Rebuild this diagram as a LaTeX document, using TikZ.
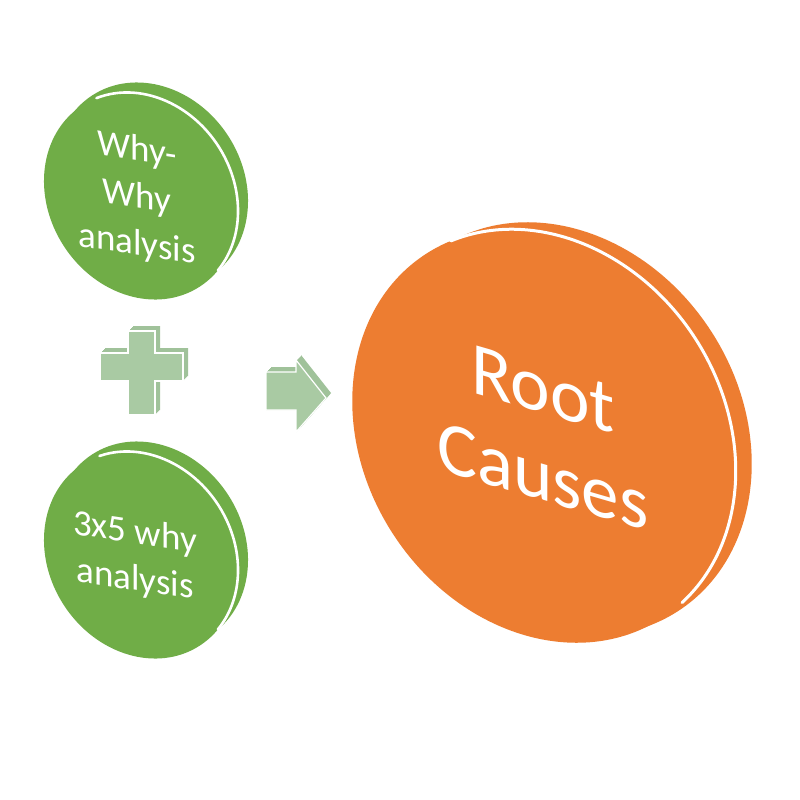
\documentclass[tikz,border=0pt]{standalone}
\usepackage{fontspec}
\setmainfont{Carlito}
\definecolor{discgreen}{HTML}{70AD47}
\definecolor{discorange}{HTML}{ED7D31}
\definecolor{symfront}{HTML}{A9CAA3}
\definecolor{symside}{HTML}{A0C29A}
\newcommand\plusoutline{(128,331) -- (155,331) -- (155,353) -- (183,353) -- (183,381) -- (155,381) -- (155,415) -- (128,415) -- (128,381) -- (100,381) -- (100,353) -- (128,353) -- cycle}
\newcommand\arrowoutline{(266,372) -- (296,372) -- (296,360) -- (326,398) -- (296,432) -- (296,410) -- (266,410) -- cycle}
\tikzset{
  rimline/.style={white, line width=2.6pt, line cap=round},
  disctext/.style={text=white, align=center, inner sep=0pt, yslant=-0.15},
  symedge/.style={fill=symfront, draw=white, line width=1.2pt, line join=miter},
}
\begin{document}
\begin{tikzpicture}[x=1pt,y=-1pt]
\useasboundingbox[fill=white] (0,0) rectangle (800,800);

% top green disc
\fill[discgreen, shift={(151,186)}, rotate=-57] (0,0) ellipse[x radius=108, y radius=92];
\fill[discgreen, shift={(141,196)}, rotate=-57] (0,0) ellipse[x radius=108, y radius=92];
\draw[rimline, shift={(141,196)}, rotate=-57] (190:108 and 92) arc[start angle=190, end angle=345, x radius=108, y radius=92];

% bottom green disc
\fill[discgreen, shift={(151,545)}, rotate=-57] (0,0) ellipse[x radius=108, y radius=92];
\fill[discgreen, shift={(141,555)}, rotate=-57] (0,0) ellipse[x radius=108, y radius=92];
\draw[rimline, shift={(141,555)}, rotate=-57] (192:108 and 92) arc[start angle=192, end angle=345, x radius=108, y radius=92];

% orange disc
\fill[discorange, shift={(560,429)}, rotate=-57] (0,0) ellipse[x radius=217, y radius=180];
\fill[discorange, shift={(544,436)}, rotate=-57] (0,0) ellipse[x radius=217, y radius=180];
\draw[rimline, line width=3pt, shift={(544,436)}, rotate=-57] (189:217 and 180) arc[start angle=189, end angle=352, x radius=217, y radius=180];

% plus sign
\foreach \k in {5,4,3,2,1} {\fill[symside, shift={(\k,-\k)}] \plusoutline;}
\path[symedge] \plusoutline;

% arrow
\foreach \k in {5,4,3,2,1} {\fill[symside, shift={(\k,-\k)}] \arrowoutline;}
\path[symedge] \arrowoutline;

% texts
\node[disctext, font=\fontsize{37}{47}\selectfont] (whywhy) at (137,198) {Why-\\Why\\analysis};
\node[disctext, font=\fontsize{37}{47}\selectfont] (threefive) at (135,557) {3x5 why\\analysis};
\node[disctext, yslant=-0.14, font=\fontsize{75}{87}\selectfont] (root) at (543,433) {Root\\Causes};
\end{tikzpicture}
\end{document}
